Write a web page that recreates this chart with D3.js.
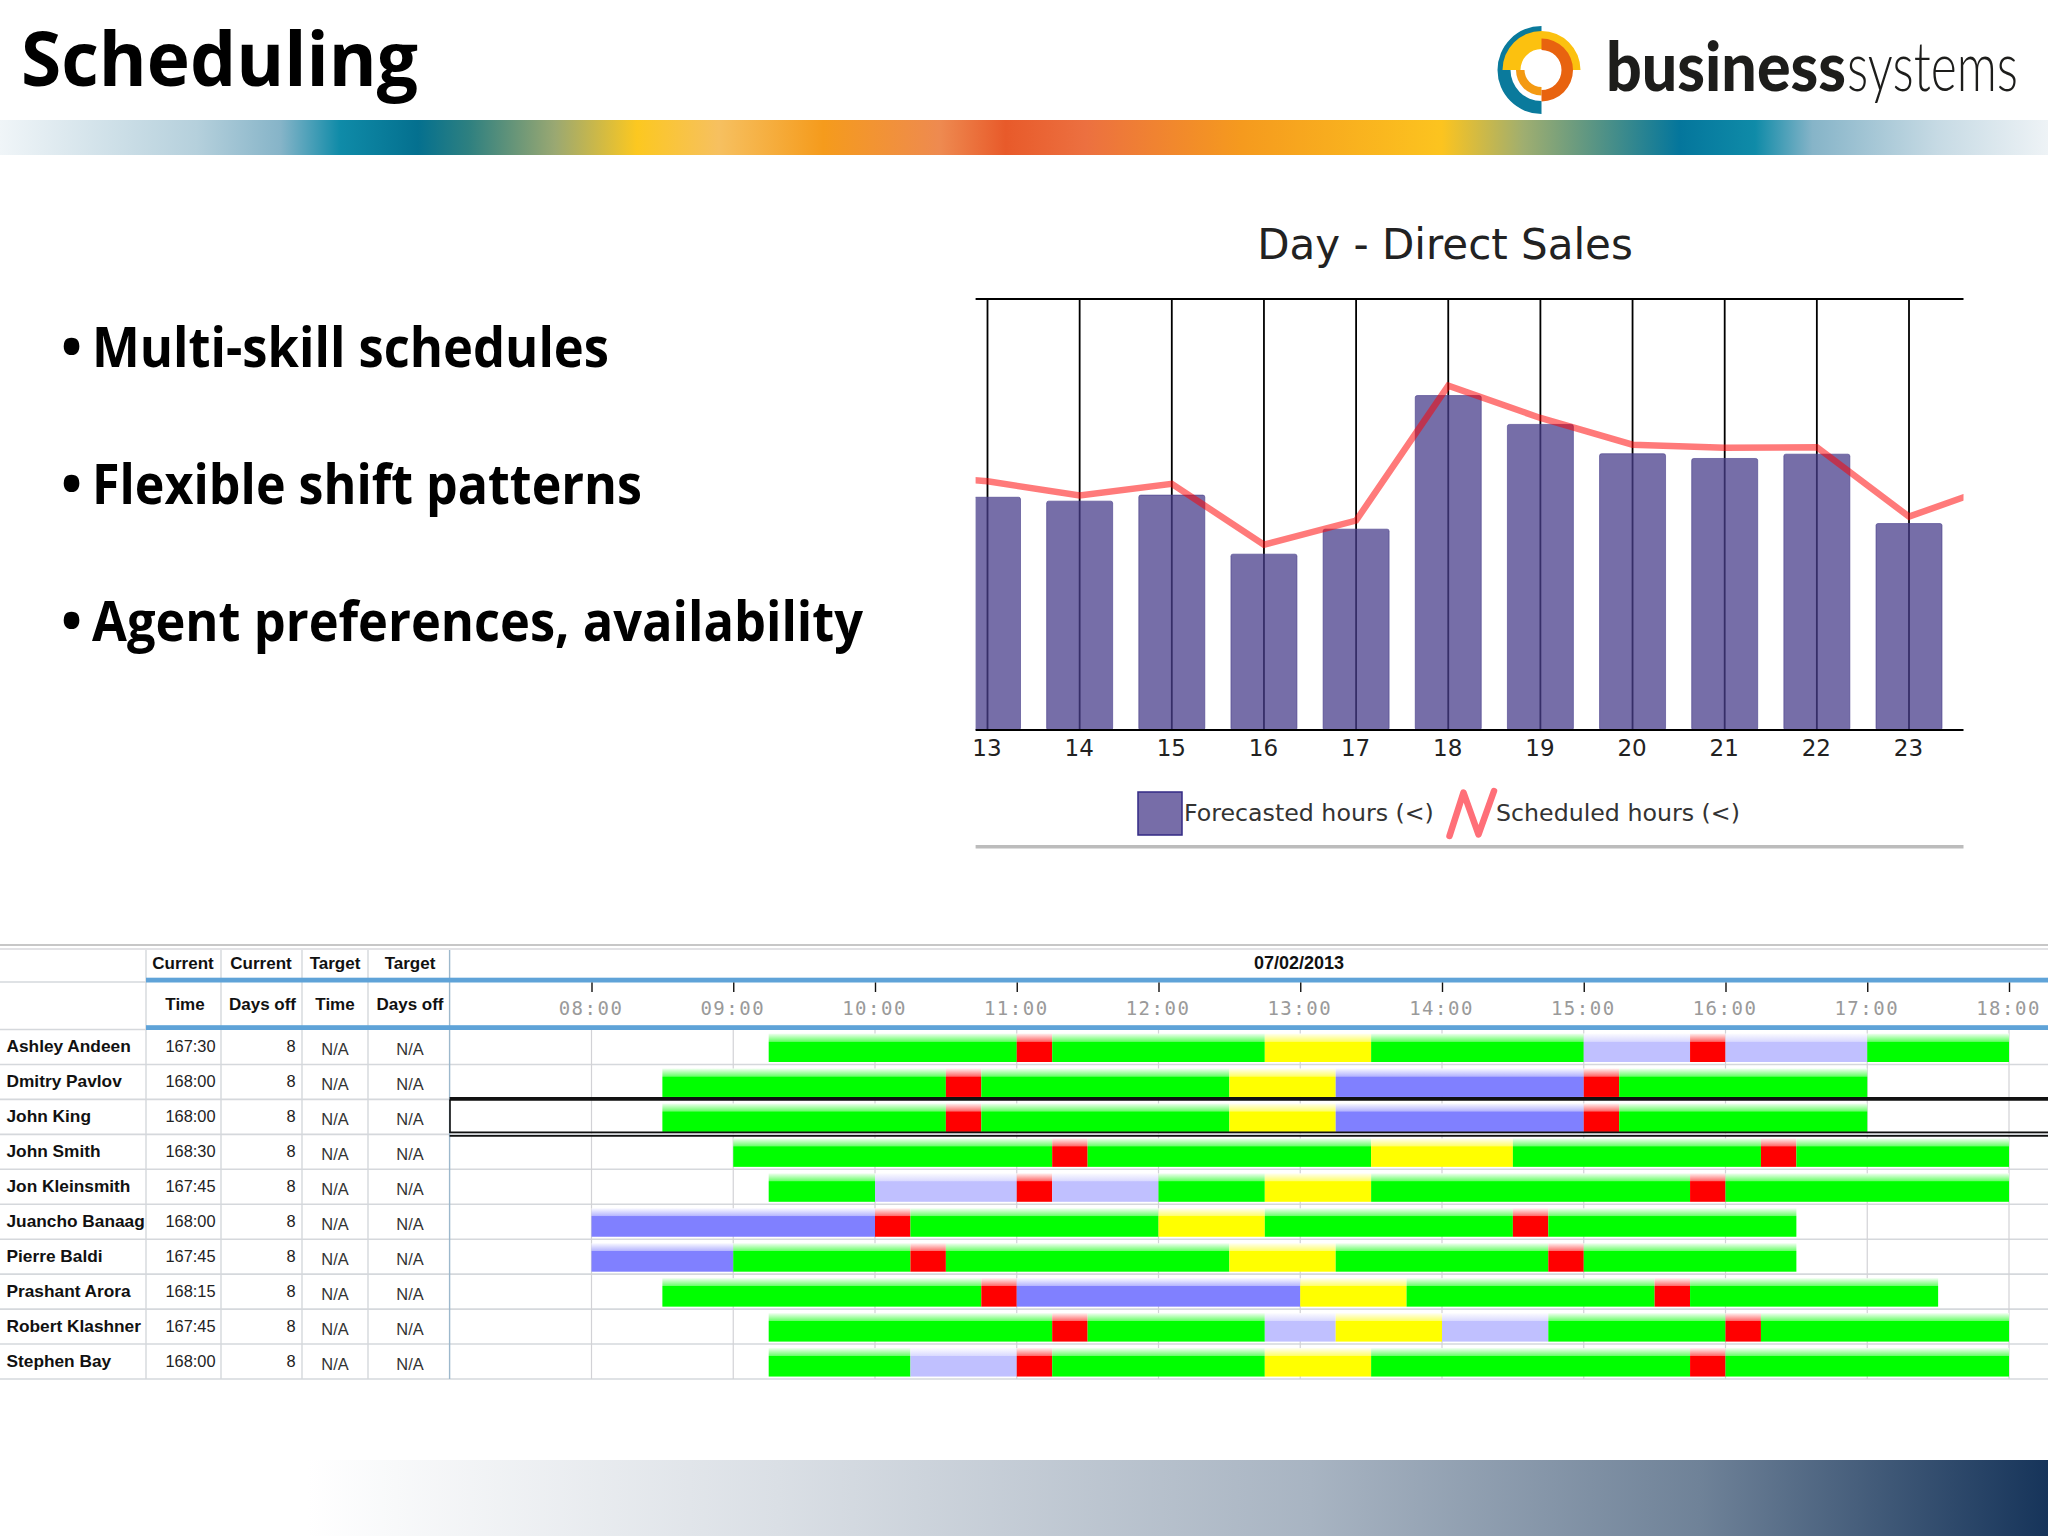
<!DOCTYPE html>
<html>
<head>
<meta charset="utf-8">
<title>Scheduling</title>
<script src="https://cdn.jsdelivr.net/npm/d3@7"></script>
<style>
	html, body { margin: 0; padding: 0; background: #fff; }
	svg { display: block; }
</style>
</head>
<body>
<script>
(function (){

	//slide text
	var slideTitle = "Scheduling";
	var bullets = ["Multi-skill schedules", "Flexible shift patterns", "Agent preferences, availability"];

	//column chart values, no y axis in the picture so read as % of the plot height
	var chartTitle = "Day - Direct Sales";
	var barDays = [13, 14, 15, 16, 17, 18, 19, 20, 21, 22, 23];
	var forecastHours = [54.0, 53.1, 54.5, 40.8, 46.6, 77.6, 70.9, 64.1, 63.0, 64.0, 47.9];
	var lineDays = [12, 13, 14, 15, 16, 17, 18, 19, 20, 21, 22, 23, 24];
	var scheduledHours = [59.7, 57.7, 54.4, 57.1, 43.0, 48.6, 79.9, 72.4, 66.2, 65.5, 65.6, 49.5, 57.1];
	var legendLabels = ["Forecasted hours (<)", "Scheduled hours (<)"];

	//schedule table
	var tableDate = "07/02/2013";
	var headTop = ["Current", "Current", "Target", "Target"];
	var headBottom = ["Time", "Days off", "Time", "Days off"];
	var agents = ["Ashley Andeen", "Dmitry Pavlov", "John King", "John Smith", "Jon Kleinsmith", "Juancho Banaag", "Pierre Baldi", "Prashant Arora", "Robert Klashner", "Stephen Bay"];
	var currentTime = ["167:30", "168:00", "168:00", "168:30", "167:45", "168:00", "167:45", "168:15", "167:45", "168:00"];
	var currentDaysOff = [8, 8, 8, 8, 8, 8, 8, 8, 8, 8];
	var targetTime = ["N/A", "N/A", "N/A", "N/A", "N/A", "N/A", "N/A", "N/A", "N/A", "N/A"];
	var targetDaysOff = ["N/A", "N/A", "N/A", "N/A", "N/A", "N/A", "N/A", "N/A", "N/A", "N/A"];
	var hourTicks = ["08:00", "09:00", "10:00", "11:00", "12:00", "13:00", "14:00", "15:00", "16:00", "17:00", "18:00"];

	//shifts per agent: state, start, end
	var shifts = [
		[["work","09:15","11:00"],["break","11:00","11:15"],["work","11:15","12:45"],["lunch","12:45","13:30"],["work","13:30","15:00"],["off","15:00","15:45"],["break","15:45","16:00"],["off","16:00","17:00"],["work","17:00","18:00"]],
		[["work","08:30","10:30"],["break","10:30","10:45"],["work","10:45","12:30"],["lunch","12:30","13:15"],["skill","13:15","15:00"],["break","15:00","15:15"],["work","15:15","17:00"]],
		[["work","08:30","10:30"],["break","10:30","10:45"],["work","10:45","12:30"],["lunch","12:30","13:15"],["skill","13:15","15:00"],["break","15:00","15:15"],["work","15:15","17:00"]],
		[["work","09:00","11:15"],["break","11:15","11:30"],["work","11:30","13:30"],["lunch","13:30","14:30"],["work","14:30","16:15"],["break","16:15","16:30"],["work","16:30","18:00"]],
		[["work","09:15","10:00"],["off","10:00","11:00"],["break","11:00","11:15"],["off","11:15","12:00"],["work","12:00","12:45"],["lunch","12:45","13:30"],["work","13:30","15:45"],["break","15:45","16:00"],["work","16:00","18:00"]],
		[["skill","08:00","10:00"],["break","10:00","10:15"],["work","10:15","12:00"],["lunch","12:00","12:45"],["work","12:45","14:30"],["break","14:30","14:45"],["work","14:45","16:30"]],
		[["skill","08:00","09:00"],["work","09:00","10:15"],["break","10:15","10:30"],["work","10:30","12:30"],["lunch","12:30","13:15"],["work","13:15","14:45"],["break","14:45","15:00"],["work","15:00","16:30"]],
		[["work","08:30","10:45"],["break","10:45","11:00"],["skill","11:00","13:00"],["lunch","13:00","13:45"],["work","13:45","15:30"],["break","15:30","15:45"],["work","15:45","17:30"]],
		[["work","09:15","11:15"],["break","11:15","11:30"],["work","11:30","12:45"],["off","12:45","13:15"],["lunch","13:15","14:00"],["off","14:00","14:45"],["work","14:45","16:00"],["break","16:00","16:15"],["work","16:15","18:00"]],
		[["work","09:15","10:15"],["off","10:15","11:00"],["break","11:00","11:15"],["work","11:15","12:45"],["lunch","12:45","13:30"],["work","13:30","15:45"],["break","15:45","16:00"],["work","16:00","18:00"]]
	];

	var stateColor = {work: "#00ff00", "break": "#ff0000", lunch: "#ffff00", skill: "#8080ff", off: "#c0c0ff"};

	var width = 2048, height = 1536;

	var svg = d3.select("body")
		.append("svg")
		.attr("width", width)
		.attr("height", height);

	var defs = svg.append("defs");

	setHeader();
	setBullets();
	setChart();
	setTable();

	//horizontal band helper, stops are [fraction, colour]
	function makeBand(id, stops){
		var grad = defs.append("linearGradient").attr("id", id);
		stops.forEach(function(s){
			grad.append("stop").attr("offset", s[0]).attr("stop-color", s[1]);
		});
	}

	function setHeader(){
		svg.append("text")
			.attr("x", 21)
			.attr("y", 86)
			.attr("font-family", "'Open Sans', sans-serif")
			.attr("font-weight", 700)
			.attr("font-size", 76)
			.attr("textLength", 397)
			.attr("lengthAdjust", "spacingAndGlyphs")
			.attr("fill", "#000")
			.text(slideTitle);

		makeBand("topBand", [[0,"#f0f5f8"],[0.096,"#b5d0dc"],[0.137,"#86b4c8"],[0.166,"#0f8ba8"],[0.204,"#04708f"],[0.229,"#2e8080"],[0.271,"#9aa872"],[0.311,"#fcc820"],[0.351,"#f6c060"],[0.402,"#f59b1c"],[0.459,"#ee8a50"],[0.491,"#e85a2a"],[0.53,"#ec7040"],[0.606,"#f59a1e"],[0.704,"#fcc41f"],[0.744,"#9fae70"],[0.82,"#04769c"],[0.857,"#0f8ba8"],[0.885,"#86b4c8"],[0.946,"#c6dae4"],[1,"#eef3f6"]]);
		svg.append("rect")
			.attr("x", 0).attr("y", 120)
			.attr("width", width).attr("height", 35)
			.attr("fill", "url(#topBand)");

		makeBand("bottomBand", [[0,"#ffffff"],[0.15,"#ffffff"],[0.38,"#dadfe5"],[0.64,"#a8b4c2"],[0.83,"#6f8298"],[1,"#16345a"]]);
		svg.append("rect")
			.attr("x", 0).attr("y", 1460)
			.attr("width", width).attr("height", 76)
			.attr("fill", "url(#bottomBand)");

		//logo rings
		var logo = svg.append("g").attr("transform", "translate(1541.5,70)");
		var arc = d3.arc();
		var pi = Math.PI;
		logo.append("path")
			.attr("d", arc({innerRadius: 31, outerRadius: 44, startAngle: -pi, endAngle: 0}))
			.attr("fill", "#0a7a9c");
		logo.append("path")
			.attr("d", arc({innerRadius: 17, outerRadius: 25.5, startAngle: -pi, endAngle: -pi / 2}))
			.attr("fill", "#f49a12");
		logo.append("path")
			.attr("d", arc({innerRadius: 21, outerRadius: 39, startAngle: -pi / 2, endAngle: pi / 2}))
			.attr("fill", "#fcc10f");
		logo.append("path")
			.attr("d", arc({innerRadius: 20, outerRadius: 31.5, startAngle: 0, endAngle: pi}))
			.attr("fill", "#e8630f");

		svg.append("text")
			.attr("x", 1606).attr("y", 91)
			.attr("font-family", "Lato, sans-serif")
			.attr("font-weight", 900)
			.attr("font-size", 68)
			.attr("textLength", 240)
			.attr("lengthAdjust", "spacingAndGlyphs")
			.attr("fill", "#1d1d1b")
			.text("business");
		svg.append("text")
			.attr("x", 1847).attr("y", 91)
			.attr("font-family", "Lato, sans-serif")
			.attr("font-weight", 300)
			.attr("font-size", 68)
			.attr("textLength", 171)
			.attr("lengthAdjust", "spacingAndGlyphs")
			.attr("fill", "#1d1d1b")
			.text("systems");
	}

	function setBullets(){
		var widths = [517, 550, 771];
		var rows = svg.selectAll(".bullet")
			.data(bullets)
			.enter()
			.append("g")
			.attr("class", "bullet")
			.attr("transform", function(d, i){
				return "translate(0," + (367 + i * 137) + ")";
			})
			.attr("font-family", "'Open Sans', sans-serif")
			.attr("font-weight", 700)
			.attr("fill", "#000");
		rows.append("text")
			.attr("x", 61)
			.attr("font-size", 56)
			.text("\u2022");
		rows.append("text")
			.attr("x", 92)
			.attr("font-size", 56)
			.attr("textLength", function(d, i){ return widths[i]; })
			.attr("lengthAdjust", "spacingAndGlyphs")
			.text(function(d){ return d; });
	}

	//function to create the column chart with the scheduled line on top
	function setChart(){
		var left = 975.6, right = 1963.5, top = 299, bottom = 730;

		var x = d3.scaleLinear()
			.domain([13, 23])
			.range([987.5, 1909]);
		var y = d3.scaleLinear()
			.domain([0, 100])
			.range([bottom, top]);

		defs.append("clipPath")
			.attr("id", "plotClip")
			.append("rect")
			.attr("x", left).attr("y", top)
			.attr("width", right - left).attr("height", bottom - top);

		svg.append("text")
			.attr("x", 1445)
			.attr("y", 259)
			.attr("text-anchor", "middle")
			.attr("font-family", "'DejaVu Sans', sans-serif")
			.attr("font-size", 42)
			.attr("fill", "#222")
			.text(chartTitle);

		//vertical day lines sit under the see-through bars
		svg.selectAll(".dayLine")
			.data(barDays)
			.enter()
			.append("line")
			.attr("class", "dayLine")
			.attr("x1", function(d){ return x(d); })
			.attr("x2", function(d){ return x(d); })
			.attr("y1", top)
			.attr("y2", bottom)
			.attr("stroke", "#000")
			.attr("stroke-width", 1.8);

		var plot = svg.append("g").attr("clip-path", "url(#plotClip)");

		plot.selectAll(".bars")
			.data(barDays)
			.enter()
			.append("rect")
			.attr("class", "bars")
			.attr("x", function(d){ return x(d) - 33; })
			.attr("width", 66)
			.attr("y", function(d, i){ return y(forecastHours[i]); })
			.attr("height", function(d, i){ return bottom - y(forecastHours[i]); })
			.attr("rx", 2)
			.attr("fill", "#483d8b")
			.attr("fill-opacity", 0.75)
			.attr("stroke", "#483d8b")
			.attr("stroke-opacity", 0.6)
			.attr("stroke-width", 1);

		var line = d3.line()
			.x(function(d, i){ return x(lineDays[i]); })
			.y(function(d){ return y(d); });

		plot.append("path")
			.datum(scheduledHours)
			.attr("d", line)
			.attr("fill", "none")
			.attr("stroke", "#ff0000")
			.attr("stroke-opacity", 0.52)
			.attr("stroke-width", 6.5);

		//axis lines top and bottom
		svg.append("line")
			.attr("x1", left).attr("x2", right)
			.attr("y1", top).attr("y2", top)
			.attr("stroke", "#000").attr("stroke-width", 2);

		var axis = d3.axisBottom(x)
			.tickValues(barDays)
			.tickFormat(d3.format("d"))
			.tickSize(0)
			.tickPadding(9.5);
		var axisG = svg.append("g")
			.attr("transform", "translate(0," + bottom + ")")
			.call(axis);
		axisG.select(".domain").remove();
		axisG.selectAll("text")
			.attr("dx", -1)
			.attr("font-family", "'DejaVu Sans', sans-serif")
			.attr("font-size", 23)
			.attr("fill", "#222");
		svg.append("line")
			.attr("x1", left).attr("x2", right)
			.attr("y1", bottom).attr("y2", bottom)
			.attr("stroke", "#000").attr("stroke-width", 2);

		//legend
		svg.append("rect")
			.attr("x", 1138).attr("y", 792)
			.attr("width", 44).attr("height", 43)
			.attr("fill", "#776da8")
			.attr("stroke", "#332a85")
			.attr("stroke-width", 1.5);
		svg.append("path")
			.attr("d", "M1449.5,836L1463.5,792.5L1478.5,834.5L1494,791")
			.attr("fill", "none")
			.attr("stroke", "#ff6f78")
			.attr("stroke-linejoin", "round")
			.attr("stroke-linecap", "round")
			.attr("stroke-width", 6.5);
		svg.selectAll(".legendText")
			.data(legendLabels)
			.enter()
			.append("text")
			.attr("class", "legendText")
			.attr("x", function(d, i){ return i === 0 ? 1184 : 1496; })
			.attr("y", 821)
			.attr("font-family", "'DejaVu Sans', sans-serif")
			.attr("font-size", 23.7)
			.attr("fill", "#333")
			.text(function(d){ return d; });

		svg.append("rect")
			.attr("x", left).attr("y", 845)
			.attr("width", right - left).attr("height", 3.5)
			.attr("fill", "#bcbcbc");
	}

	//function to create the agent table and the gantt bars
	function setTable(){
		var parseTime = d3.timeParse("%H:%M");
		var colLines = [146, 221, 302, 368, 449.6];
		var headCenters = [183, 261, 335, 410];
		var headCenters2 = [185, 262.5, 335, 410];

		var time = d3.scaleTime()
			.domain([parseTime("08:00"), parseTime("18:00")])
			.range([591.5, 2009]);

		var rowY = d3.scaleBand()
			.domain(agents)
			.range([1029.5, 1379]);

		//gradient per state: washed out at the top, then solid
		Object.keys(stateColor).forEach(function(k){
			var grad = defs.append("linearGradient")
				.attr("id", "state-" + k)
				.attr("x1", 0).attr("x2", 0).attr("y1", 0).attr("y2", 1);
			var mix = d3.interpolateRgb("#ffffff", stateColor[k]);
			grad.append("stop").attr("offset", 0).attr("stop-color", mix(0.05));
			grad.append("stop").attr("offset", 0.28).attr("stop-color", mix(0.6));
			grad.append("stop").attr("offset", 0.29).attr("stop-color", stateColor[k]);
			grad.append("stop").attr("offset", 1).attr("stop-color", stateColor[k]);
		});

		//header rules
		svg.append("line")
			.attr("x1", 0).attr("x2", width)
			.attr("y1", 945).attr("y2", 945)
			.attr("stroke", "#b5b5b5").attr("stroke-width", 1.6);
		svg.append("line")
			.attr("x1", 0).attr("x2", width)
			.attr("y1", 949).attr("y2", 949)
			.attr("stroke", "#d8d8dc").attr("stroke-width", 1.6);
		svg.append("line")
			.attr("x1", 0).attr("x2", 146)
			.attr("y1", 982).attr("y2", 982)
			.attr("stroke", "#d5d8dc").attr("stroke-width", 1.6);

		//row and hour grid
		svg.selectAll(".rowLine")
			.data(agents)
			.enter()
			.append("line")
			.attr("class", "rowLine")
			.attr("x1", 0).attr("x2", width)
			.attr("y1", function(d){ return rowY(d) + rowY.bandwidth(); })
			.attr("y2", function(d){ return rowY(d) + rowY.bandwidth(); })
			.attr("stroke", "#d5d8dc").attr("stroke-width", 1.6);
		svg.append("line")
			.attr("x1", 0).attr("x2", 146)
			.attr("y1", 1029.5).attr("y2", 1029.5)
			.attr("stroke", "#d5d8dc").attr("stroke-width", 1.6);

		svg.selectAll(".hourLine")
			.data(hourTicks)
			.enter()
			.append("line")
			.attr("class", "hourLine")
			.attr("x1", function(d){ return time(parseTime(d)); })
			.attr("x2", function(d){ return time(parseTime(d)); })
			.attr("y1", 1028)
			.attr("y2", 1379)
			.attr("stroke", "#d2d2d6").attr("stroke-width", 1.2);

		svg.selectAll(".colLine")
			.data(colLines)
			.enter()
			.append("line")
			.attr("class", "colLine")
			.attr("x1", function(d){ return d; })
			.attr("x2", function(d){ return d; })
			.attr("y1", 950)
			.attr("y2", 1379)
			.attr("stroke", function(d, i){ return i === 4 ? "#9db8cc" : "#d5d8dc"; })
			.attr("stroke-width", 1.4);

		//blue header bars
		[977.7, 1025.2].forEach(function(yy){
			svg.append("rect")
				.attr("x", 146).attr("y", yy)
				.attr("width", width - 146).attr("height", 4.8)
				.attr("fill", "#5fa3d8");
		});

		//hour axis between the blue bars
		var axis = d3.axisBottom(time)
			.tickValues(hourTicks.map(parseTime))
			.tickFormat(d3.timeFormat("%H:%M"))
			.tickSize(9.5)
			.tickPadding(9.5);
		var axisG = svg.append("g")
			.attr("transform", "translate(0,982.5)")
			.call(axis);
		axisG.select(".domain").remove();
		axisG.selectAll("line").attr("stroke", "#111").attr("stroke-width", 1.4);
		axisG.selectAll("text")
			.attr("dx", -1)
			.attr("font-family", "'DejaVu Sans Mono', monospace")
			.attr("font-size", 19)
			.attr("letter-spacing", 1.5)
			.attr("fill", "#9a9a9a");

		//shift blocks
		var rows = svg.selectAll(".shiftRow")
			.data(shifts)
			.enter()
			.append("g")
			.attr("class", "shiftRow")
			.attr("transform", function(d, i){
				return "translate(0," + rowY(agents[i]) + ")";
			});
		rows.selectAll("rect")
			.data(function(d){ return d; })
			.enter()
			.append("rect")
			.attr("x", function(d){ return time(parseTime(d[1])); })
			.attr("width", function(d){ return time(parseTime(d[2])) - time(parseTime(d[1])); })
			.attr("y", 4)
			.attr("height", 28.5)
			.attr("fill", function(d){ return "url(#state-" + d[0] + ")"; });

		//selected row frame
		var sel = rowY("John King");
		svg.append("line")
			.attr("x1", 449.6).attr("x2", width)
			.attr("y1", sel - 0.5).attr("y2", sel - 0.5)
			.attr("stroke", "#111").attr("stroke-width", 3.6);
		svg.append("line")
			.attr("x1", 450).attr("x2", 450)
			.attr("y1", sel).attr("y2", sel + 33.5)
			.attr("stroke", "#111").attr("stroke-width", 1.6);
		svg.append("line")
			.attr("x1", 449.6).attr("x2", width)
			.attr("y1", sel + 33).attr("y2", sel + 33)
			.attr("stroke", "#111").attr("stroke-width", 1.6);
		svg.append("line")
			.attr("x1", 449.6).attr("x2", width)
			.attr("y1", sel + 36.5).attr("y2", sel + 36.5)
			.attr("stroke", "#111").attr("stroke-width", 1.6);

		//header text
		var tableFont = "'Liberation Sans', sans-serif";
		svg.selectAll(".headTop")
			.data(headTop)
			.enter()
			.append("text")
			.attr("class", "headTop")
			.attr("x", function(d, i){ return headCenters[i]; })
			.attr("y", 969)
			.text(function(d){ return d; });
		svg.selectAll(".headBottom")
			.data(headBottom)
			.enter()
			.append("text")
			.attr("class", "headBottom")
			.attr("x", function(d, i){ return headCenters2[i]; })
			.attr("y", 1010)
			.text(function(d){ return d; });
		svg.selectAll(".headTop, .headBottom")
			.attr("text-anchor", "middle")
			.attr("font-family", tableFont)
			.attr("font-weight", 700)
			.attr("font-size", 17)
			.attr("fill", "#111");
		svg.append("text")
			.attr("x", 1299)
			.attr("y", 969)
			.attr("text-anchor", "middle")
			.attr("font-family", tableFont)
			.attr("font-weight", 700)
			.attr("font-size", 18)
			.attr("fill", "#111")
			.text(tableDate);

		//agent columns
		addColumn(agents, 6.5, 22.5, "start", 700, "#111");
		addColumn(currentTime, 215.6, 22.5, "end", 400, "#222");
		addColumn(currentDaysOff, 295.5, 22.5, "end", 400, "#222");
		addColumn(targetTime, 335, 25.5, "middle", 400, "#333");
		addColumn(targetDaysOff, 410, 25.5, "middle", 400, "#333");

		function addColumn(values, xPos, dy, anchor, weight, colour){
			svg.append("g")
				.selectAll("text")
				.data(values)
				.enter()
				.append("text")
				.attr("x", xPos)
				.attr("y", function(d, i){ return rowY(agents[i]) + dy; })
				.attr("text-anchor", anchor)
				.attr("font-family", tableFont)
				.attr("font-weight", weight)
				.attr("font-size", weight === 700 ? 17.3 : 16.4)
				.attr("fill", colour)
				.text(function(d){ return d; });
		}
	}

})();
</script>
</body>
</html>
